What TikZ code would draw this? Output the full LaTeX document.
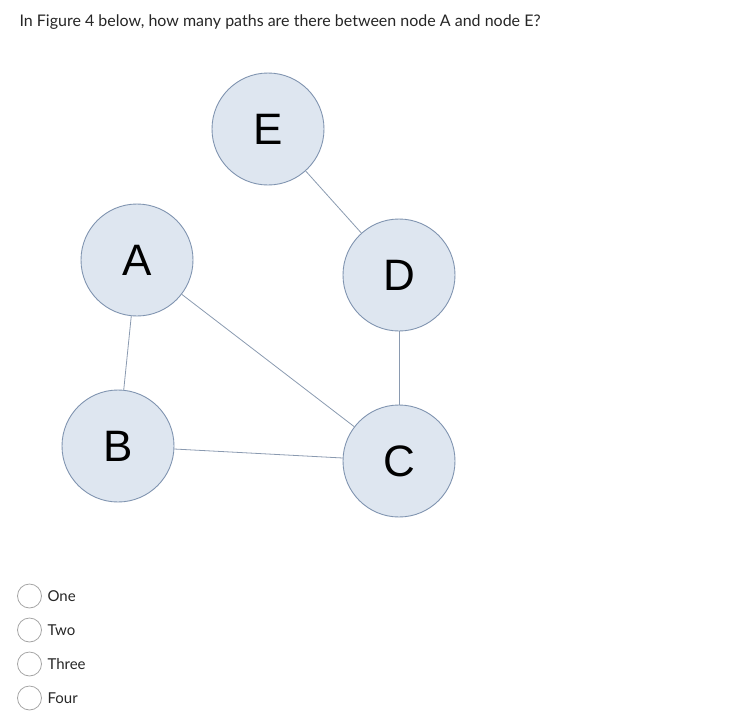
\documentclass[tikz,border=0pt]{standalone}
\usepackage{fontspec}
\setmainfont{Lato}
\newfontfamily\arialf{Liberation Sans}
\definecolor{nfill}{HTML}{DEE6F0}
\definecolor{nline}{HTML}{8094B0}
\definecolor{eline}{HTML}{8A9AB0}
\begin{document}
\begin{tikzpicture}[x=1pt,y=-1pt,
  gnode/.style={circle,draw=nline,fill=nfill,line width=0.9pt,minimum size=112pt,inner sep=0pt,font=\arialf\fontsize{44}{44}\selectfont},
  edge/.style={draw=eline,line width=0.8pt},
  radio/.style={circle,draw=gray!70,line width=0.8pt,minimum size=24pt,inner sep=0pt},
  opt/.style={anchor=west,font=\fontsize{15}{15}\selectfont,text=black!85}]
\useasboundingbox (0,0) rectangle (755,720);
\node[anchor=west,font=\fontsize{16}{16}\selectfont,text=black!85] (q) at (16,22) {In Figure 4 below, how many paths are there between node A and node E?};
\node[gnode] (E) at (268,129) {E};
\node[gnode] (A) at (137,260) {A};
\node[gnode] (D) at (399,275) {D};
\node[gnode] (B) at (118,446) {B};
\node[gnode] (C) at (399,461) {C};
\draw[edge] (E) -- (D);
\draw[edge] (A) -- (B);
\draw[edge] (A) -- (C);
\draw[edge] (B) -- (C);
\draw[edge] (D) -- (C);
\node[radio] (r1) at (29.5,596) {};
\node[radio] (r2) at (29.5,630) {};
\node[radio] (r3) at (29.5,664) {};
\node[radio] (r4) at (29.5,698) {};
\node[opt] (o1) at (44,596) {One};
\node[opt] (o2) at (44,630) {Two};
\node[opt] (o3) at (44,664) {Three};
\node[opt] (o4) at (44,698) {Four};
\end{tikzpicture}
\end{document}
